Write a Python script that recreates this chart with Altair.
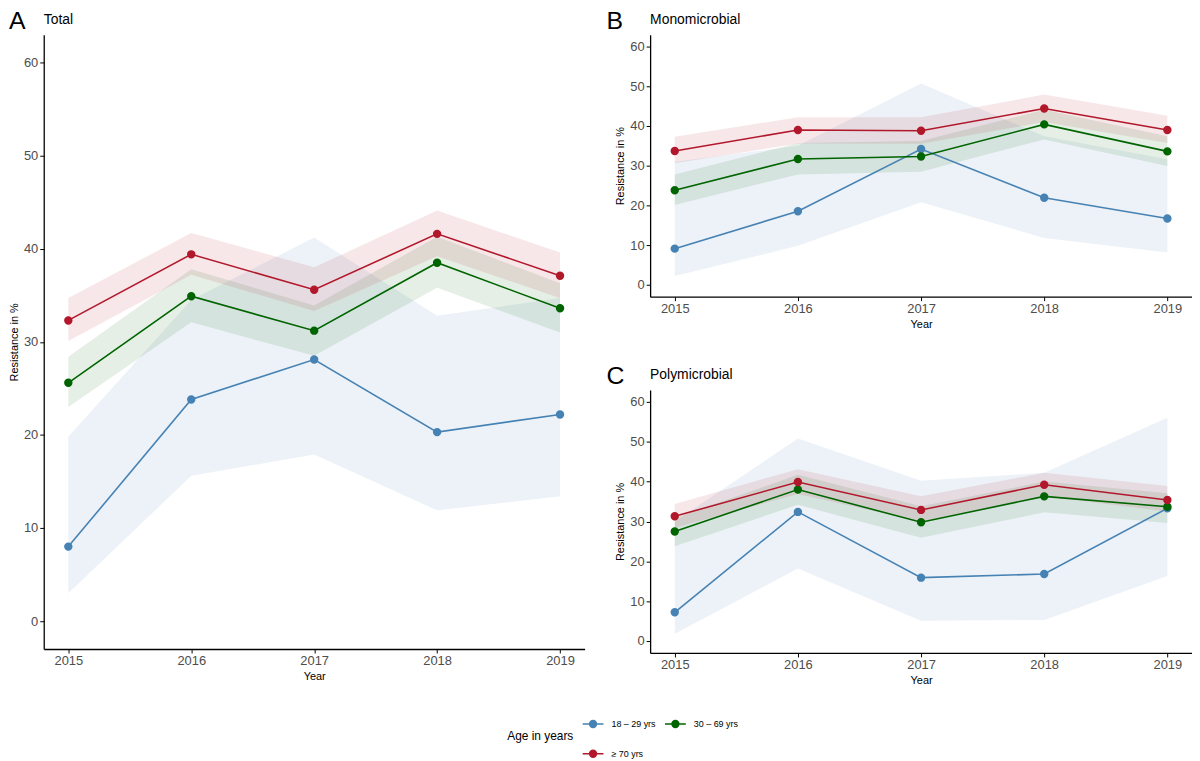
import altair as alt
import pandas as pd

years = [2015, 2016, 2017, 2018, 2019]
groups = ["18 – 29 yrs", "30 – 69 yrs", "≥ 70 yrs"]
colors = ["#4682B4", "#006400", "#B2182B"]

# Panel A: Total
total_young = [8.0, 23.8, 28.1, 20.3, 22.2]
total_young_lo = [3.0, 15.6, 17.9, 11.9, 13.4]
total_young_hi = [19.8, 34.5, 41.2, 32.8, 34.7]
total_mid = [25.6, 34.9, 31.2, 38.5, 33.6]
total_mid_lo = [23.0, 32.1, 28.5, 35.8, 31.0]
total_mid_hi = [28.4, 37.8, 33.9, 41.3, 36.3]
total_old = [32.3, 39.4, 35.6, 41.6, 37.1]
total_old_lo = [30.1, 37.2, 33.3, 39.2, 34.7]
total_old_hi = [34.7, 41.7, 38.0, 44.1, 39.6]

# Panel B: Monomicrobial
mono_young = [9.1, 18.5, 34.2, 21.9, 16.7]
mono_young_lo = [2.2, 9.8, 20.8, 11.8, 8.1]
mono_young_hi = [31.0, 35.0, 50.7, 37.4, 31.6]
mono_mid = [23.8, 31.7, 32.3, 40.4, 33.6]
mono_mid_lo = [20.1, 27.8, 28.5, 36.6, 29.9]
mono_mid_hi = [27.8, 35.7, 36.2, 44.1, 37.4]
mono_old = [33.7, 39.0, 38.8, 44.4, 39.0]
mono_old_lo = [30.6, 35.6, 35.5, 41.0, 35.7]
mono_old_hi = [37.3, 42.2, 42.2, 47.9, 42.6]

# Panel C: Polymicrobial
poly_young = [7.2, 32.4, 15.9, 16.8, 33.3]
poly_young_lo = [1.8, 18.2, 5.1, 5.3, 16.3]
poly_young_hi = [30.0, 50.8, 40.2, 42.2, 56.0]
poly_mid = [27.5, 38.0, 29.8, 36.3, 33.7]
poly_mid_lo = [23.8, 34.2, 25.9, 32.3, 29.6]
poly_mid_hi = [30.9, 41.7, 33.8, 40.0, 37.1]
poly_old = [31.3, 39.9, 32.9, 39.2, 35.4]
poly_old_lo = [28.4, 36.9, 30.0, 36.3, 32.5]
poly_old_hi = [34.4, 43.1, 36.3, 42.2, 38.9]

panels = {
    "Total": [(total_young, total_young_lo, total_young_hi),
              (total_mid, total_mid_lo, total_mid_hi),
              (total_old, total_old_lo, total_old_hi)],
    "Monomicrobial": [(mono_young, mono_young_lo, mono_young_hi),
                      (mono_mid, mono_mid_lo, mono_mid_hi),
                      (mono_old, mono_old_lo, mono_old_hi)],
    "Polymicrobial": [(poly_young, poly_young_lo, poly_young_hi),
                      (poly_mid, poly_mid_lo, poly_mid_hi),
                      (poly_old, poly_old_lo, poly_old_hi)],
}

rows = []
for pname, series in panels.items():
    for g, (est, lo, hi) in zip(groups, series):
        for i, yr in enumerate(years):
            rows.append({"panel": pname, "group": g, "year": yr,
                         "value": est[i], "lo": lo[i], "hi": hi[i]})
df = pd.DataFrame(rows)

FONT = "Liberation Sans"
color_scale = alt.Scale(domain=groups, range=colors)
sym_path = ("M-1,0L1,0M0.33,0A0.33,0.33,0,1,1,-0.33,0"
            "A0.33,0.33,0,1,1,0.33,0Z")
legend = alt.Legend(title="Age in years", orient="none",
                    legendX=467, legendY=683,
                    direction="horizontal", columns=2,
                    titleOrient="left", titleAnchor="middle",
                    titleBaseline="middle",
                    titleFont=FONT, titleFontSize=12,
                    titleFontWeight="normal", titleColor="black",
                    titlePadding=8,
                    labelFont=FONT, labelFontSize=9, labelColor="black",
                    labelOffset=7,
                    symbolType=sym_path, symbolSize=441,
                    symbolStrokeWidth=1.5, symbolOpacity=1,
                    rowPadding=12, columnPadding=6)

xs = alt.X("year:Q", title="Year",
           scale=alt.Scale(domain=[2014.8, 2019.2], nice=False, zero=False),
           axis=alt.Axis(values=years, format="d"))
ys_kwargs = dict(scale=alt.Scale(domain=[-3, 63], nice=False, zero=False))
yaxis = alt.Axis(values=[0, 10, 20, 30, 40, 50, 60], title="Resistance in %")


def panel(pname, letter, letter_x, w, h):
    base = alt.Chart(df[df.panel == pname])
    band = base.mark_area(opacity=0.1).encode(
        x=xs,
        y=alt.Y("lo:Q", axis=yaxis, **ys_kwargs),
        y2="hi:Q",
        color=alt.Color("group:N", scale=color_scale, legend=legend),
    )
    line = base.mark_line(strokeWidth=1.6).encode(
        x=xs,
        y=alt.Y("value:Q", axis=yaxis, **ys_kwargs),
        color=alt.Color("group:N", scale=color_scale, legend=legend),
    )
    pts = base.mark_point(filled=True, size=42, opacity=1).encode(
        x=xs,
        y=alt.Y("value:Q", axis=yaxis, **ys_kwargs),
        color=alt.Color("group:N", scale=color_scale, legend=legend),
        stroke=alt.Stroke("group:N", scale=color_scale, legend=legend),
    )
    tag = alt.Chart(pd.DataFrame({"t": [letter]})).mark_text(
        font=FONT, fontSize=25, align="left", baseline="alphabetic",
        color="black").encode(text="t:N", x=alt.value(letter_x),
                              y=alt.value(-6))
    ttl = alt.Chart(pd.DataFrame({"t": [pname]})).mark_text(
        font=FONT, fontSize=14, align="left", baseline="alphabetic",
        color="black").encode(text="t:N", x=alt.value(0), y=alt.value(-11))
    return alt.layer(band, line, pts, tag, ttl).properties(width=w, height=h)


pA = panel("Total", "A", -35, 545, 619)
pB = panel("Monomicrobial", "B", -44, 546, 264)
pC = panel("Polymicrobial", "C", -44, 546, 265)

right = alt.vconcat(pB, pC, spacing=35)
chart = alt.hconcat(pA, right, spacing=22).resolve_scale(
    color="shared", stroke="shared").resolve_legend(
    color="shared", stroke="shared").properties(
    padding={"left": 0, "top": -2, "right": 0, "bottom": 0}
).configure_view(stroke=None).configure_axis(
    grid=False, domainColor="black", domainWidth=1.3,
    tickColor="black", tickSize=4, tickWidth=1,
    labelFont=FONT, labelFontSize=13, labelColor="#4D4D4D",
    labelPadding=2, titleFont=FONT, titleFontSize=11,
    titleFontWeight="normal", titleColor="black"
).configure_axisY(titlePadding=4).configure_axisX(titlePadding=3)

chart.save("out.html", embed_options={"renderer": "svg", "actions": False})
